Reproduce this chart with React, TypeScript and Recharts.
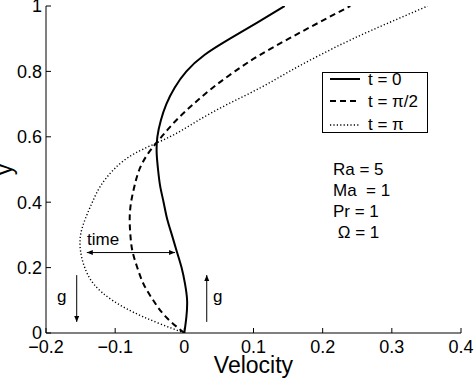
import {
  LineChart,
  Line,
  XAxis,
  YAxis,
  Legend,
  ReferenceLine,
  Customized
} from "recharts";

const FONT = '"Liberation Sans", Arial, Helvetica, sans-serif';

const yLevels = [
  0, 0.05, 0.1, 0.15, 0.2, 0.25, 0.3, 0.35, 0.4, 0.45, 0.5,
  0.55, 0.6, 0.65, 0.7, 0.75, 0.8, 0.85, 0.9, 0.95, 1
];

// velocity at each height
const velT0 = [
  0, 0.003, 0.004, 0.001, -0.004, -0.011, -0.018, -0.025, -0.03, -0.035, -0.038,
  -0.04, -0.039, -0.034, -0.026, -0.014, 0.003, 0.029, 0.066, 0.106, 0.145
];
const velTHalfPi = [
  0, -0.027, -0.045, -0.059, -0.068, -0.075, -0.078, -0.079, -0.077, -0.072, -0.065,
  -0.052, -0.033, -0.012, 0.013, 0.041, 0.073, 0.109, 0.151, 0.195, 0.24
];
const velTPi = [
  0, -0.06, -0.104, -0.131, -0.144, -0.15, -0.15, -0.143, -0.133, -0.121, -0.102,
  -0.071, -0.021, 0.02, 0.063, 0.11, 0.152, 0.196, 0.244, 0.297, 0.352
];

const seriesNames = ["t = 0", "t = \u03c0/2", "t = \u03c0"];
const seriesDash = ["", "6 4", "1.2 2.2"];
const seriesWidth = [2, 2, 1.4];

const xTicks = [-0.2, -0.1, 0, 0.1, 0.2, 0.3, 0.4];
const yTicks = [0, 0.2, 0.4, 0.6, 0.8, 1];

const params = ["Ra = 5", "Ma  = 1", "Pr = 1", " \u03a9 = 1"];

const toRows = (vals: number[]) => vals.map((v, i) => ({ v, y: yLevels[i] }));
const series = [velT0, velTHalfPi, velTPi].map(toRows);

const fmt = (v: number) => String(v).replace("-", "\u2212");

function BottomTick(props: any) {
  const { x, y, payload } = props;
  const axisY = y - 7;
  return (
    <g>
      <line x1={x} y1={axisY} x2={x} y2={axisY - 5} stroke="#000" />
      <text x={x} y={y} dy="0.71em" textAnchor="middle" fontSize={18} fontFamily={FONT} fill="#000">
        {fmt(payload.value)}
      </text>
    </g>
  );
}

function LeftTick(props: any) {
  const { x, y, payload } = props;
  const axisX = x + 4;
  return (
    <g>
      <line x1={axisX} y1={y} x2={axisX + 5} y2={y} stroke="#000" />
      <text x={x} y={y} dy="0.35em" textAnchor="end" fontSize={18} fontFamily={FONT} fill="#000">
        {fmt(payload.value)}
      </text>
    </g>
  );
}

function TopTick(props: any) {
  const { x, y } = props;
  return <line x1={x} y1={y} x2={x} y2={y + 5} stroke="#000" />;
}

function RightTick(props: any) {
  const { x, y } = props;
  return <line x1={x} y1={y} x2={x - 5} y2={y} stroke="#000" />;
}

function Arrow(props: any) {
  const { x1, y1, x2, y2, both } = props;
  const dx = x2 - x1;
  const dy = y2 - y1;
  const len = Math.sqrt(dx * dx + dy * dy) || 1;
  const ux = dx / len;
  const uy = dy / len;
  const head = (tx: number, ty: number, sx: number, sy: number) => {
    const bx = tx - sx * 6;
    const by = ty - sy * 6;
    return `${tx},${ty} ${bx - sy * 2.5},${by + sx * 2.5} ${bx + sy * 2.5},${by - sx * 2.5}`;
  };
  return (
    <g>
      <line x1={x1} y1={y1} x2={x2} y2={y2} stroke="#000" strokeWidth={1} />
      <polygon points={head(x2, y2, ux, uy)} fill="#000" />
      {both && <polygon points={head(x1, y1, -ux, -uy)} fill="#000" />}
    </g>
  );
}

function LegendBox(props: any) {
  const payload = props.payload || [];
  const rows = seriesNames.map((name) => payload.find((p: any) => p.value === name) || { value: name, color: "#000" });
  return (
    <div
      style={{
        width: 106,
        height: 61,
        boxSizing: "border-box",
        border: "1px solid #000",
        background: "#fff"
      }}
    >
      <svg width={104} height={59} style={{ display: "block" }}>
        {rows.map((entry: any, i: number) => {
          const cy = [6, 28, 52][i];
          const by = [12, 34, 57][i];
          return (
            <g key={entry.value}>
              <line
                x1={7}
                y1={cy}
                x2={37}
                y2={cy}
                stroke={entry.color}
                strokeWidth={seriesWidth[i]}
                strokeDasharray={seriesDash[i]}
              />
              <text x={45} y={by} fontSize={17} fontFamily={FONT} fill="#000">
                {entry.value}
              </text>
            </g>
          );
        })}
      </svg>
    </div>
  );
}

function Notes() {
  return (
    <g fontFamily={FONT} fontSize={17} fill="#000">
      {params.map((p, i) => (
        <text key={p} x={333} y={175 + i * 21} style={{ whiteSpace: "pre" }}>
          {p}
        </text>
      ))}
      <text x={87} y={245}>time</text>
      <text x={57} y={302}>g</text>
      <text x={213} y={302}>g</text>
    </g>
  );
}

export default function App() {
  return (
    <div style={{ position: "absolute", left: 0, top: 0, background: "#fff" }}>
      <LineChart width={474} height={378} margin={{ top: 6, right: 13, bottom: 0, left: 0 }}>
        <XAxis
          dataKey="v"
          type="number"
          domain={[-0.2, 0.4]}
          ticks={xTicks}
          allowDataOverflow
          height={45}
          tickSize={0}
          tickMargin={7}
          tickLine={false}
          axisLine={{ stroke: "#000" }}
          tick={<BottomTick />}
          interval={0}
          label={{
            value: "Velocity",
            position: "insideBottom",
            offset: 5,
            style: { fontSize: 23, fontFamily: FONT, fill: "#000" }
          }}
        />
        <XAxis
          xAxisId="top"
          orientation="top"
          type="number"
          domain={[-0.2, 0.4]}
          ticks={xTicks}
          allowDataOverflow
          height={0}
          tickSize={0}
          tickMargin={0}
          tickLine={false}
          axisLine={{ stroke: "#000" }}
          tick={<TopTick />}
          interval={0}
        />
        <YAxis
          dataKey="y"
          type="number"
          domain={[0, 1]}
          ticks={yTicks}
          allowDataOverflow
          width={46}
          tickSize={0}
          tickMargin={4}
          tickLine={false}
          axisLine={{ stroke: "#000" }}
          tick={<LeftTick />}
          interval={0}
          label={{
            value: "y",
            angle: -90,
            position: "insideLeft",
            offset: 4,
            style: { fontSize: 23, fontFamily: FONT, fill: "#000", textAnchor: "middle" }
          }}
        />
        <YAxis
          yAxisId="right"
          orientation="right"
          type="number"
          domain={[0, 1]}
          ticks={yTicks}
          allowDataOverflow
          width={0}
          tickSize={0}
          tickMargin={0}
          tickLine={false}
          axisLine={{ stroke: "#000" }}
          tick={<RightTick />}
          interval={0}
        />
        {series.map((rows, i) => (
          <Line
            key={seriesNames[i]}
            name={seriesNames[i]}
            data={rows}
            dataKey="y"
            type="natural"
            stroke="#000"
            strokeWidth={seriesWidth[i]}
            strokeDasharray={seriesDash[i]}
            dot={false}
            activeDot={false}
            isAnimationActive={false}
          />
        ))}
        <ReferenceLine
          segment={[{ x: -0.141, y: 0.246 }, { x: -0.0134, y: 0.246 }]}
          shape={(p: any) => <Arrow {...p} both />}
        />
        <ReferenceLine
          segment={[{ x: -0.1556, y: 0.177 }, { x: -0.1556, y: 0.034 }]}
          shape={(p: any) => <Arrow {...p} />}
        />
        <ReferenceLine
          segment={[{ x: 0.0324, y: 0.034 }, { x: 0.0324, y: 0.177 }]}
          shape={(p: any) => <Arrow {...p} />}
        />
        <Customized component={Notes} />
        <Legend
          layout="vertical"
          align="center"
          verticalAlign="middle"
          wrapperStyle={{ left: 322, top: 72, width: 106, height: 61 }}
          content={<LegendBox />}
        />
      </LineChart>
    </div>
  );
}
